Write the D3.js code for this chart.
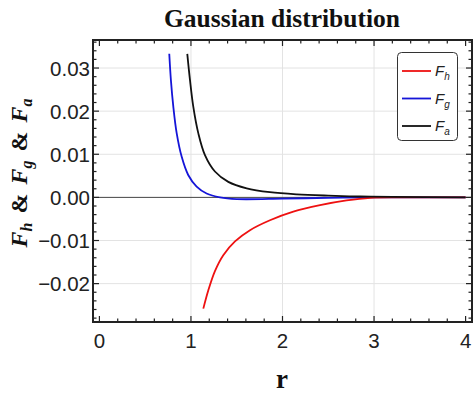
<!DOCTYPE html>
<html>
<head>
<meta charset="utf-8">
<script src="https://cdn.jsdelivr.net/npm/d3@7"></script>
<style>
  body { margin: 0; background: #fff; }
  svg { display: block; }
</style>
</head>
<body>
<svg id="chart" width="474" height="395"></svg>
<script>
// values
const rH = [1.135, 1.189, 1.262, 1.353, 1.481, 1.645, 1.863, 2.118, 2.41, 2.70, 2.96, 3.3, 3.7, 4.0]
const fH = [-0.0258, -0.0216, -0.0171, -0.0134, -0.0102, -0.0076, -0.0053, -0.0033, -0.0018, -0.0007, -0.0001, 0.0, 0.0, 0.0]

const rG = [0.763, 0.781, 0.807, 0.844, 0.899, 0.970, 1.062, 1.171, 1.317, 1.5, 2.0, 2.5, 3.0, 4.0]
const fG = [0.0333, 0.0272, 0.0211, 0.0149, 0.0094, 0.0052, 0.0025, 0.0009, 0.0, -0.0004, -0.0003, -0.0001, 0.0, 0.0]

const rA = [0.960, 0.989, 1.025, 1.080, 1.153, 1.262, 1.408, 1.609, 1.863, 2.155, 2.5, 2.85, 3.2, 4.0]
const fA = [0.0333, 0.0273, 0.0211, 0.0149, 0.0098, 0.0060, 0.0036, 0.0021, 0.0012, 0.0007, 0.0004, 0.0002, 0.0001, 0.0]

const xTicks = [0, 1, 2, 3, 4]
const yTicks = [-0.02, -0.01, 0, 0.01, 0.02, 0.03]
const seriesNames = ['h', 'g', 'a']
const seriesColors = ['#ee1111', '#1515d8', '#111111']

let svg = d3.select('#chart')

let pLeft = 93, pRight = 472, pTop = 40, pBottom = 322

let x = d3.scaleLinear().domain([-0.07, 4.07]).range([pLeft, pRight])
let y = d3.scaleLinear().domain([-0.0289, 0.0365]).range([pBottom, pTop])

// grid
svg.append('g')
   .selectAll('line')
   .data(xTicks.filter(t => t > 0 && t < 4))
   .enter()
   .append('line')
   .attr('x1', d => x(d)).attr('x2', d => x(d))
   .attr('y1', pTop).attr('y2', pBottom)
   .attr('stroke', '#e3e3e3').attr('stroke-width', 1)

svg.append('g')
   .selectAll('line')
   .data(yTicks.filter(t => t !== 0))
   .enter()
   .append('line')
   .attr('x1', pLeft).attr('x2', pRight)
   .attr('y1', d => y(d)).attr('y2', d => y(d))
   .attr('stroke', '#e3e3e3').attr('stroke-width', 1)

// zero line
svg.append('line')
   .attr('x1', pLeft).attr('x2', pRight)
   .attr('y1', y(0)).attr('y2', y(0))
   .attr('stroke', '#444').attr('stroke-width', 1)

// curves
svg.append('clipPath').attr('id', 'clip')
   .append('rect')
   .attr('x', pLeft).attr('y', pTop)
   .attr('width', pRight - pLeft).attr('height', pBottom - pTop)

let line = d3.line()
             .x(d => x(d[0]))
             .y(d => y(d[1]))
             .curve(d3.curveCatmullRom.alpha(0.5))

let curves = [
    d3.zip(rG, fG),
    d3.zip(rH, fH),
    d3.zip(rA, fA)
]
let curveColors = [seriesColors[1], seriesColors[0], seriesColors[2]]

svg.append('g')
   .attr('clip-path', 'url(#clip)')
   .selectAll('path')
   .data(curves)
   .enter()
   .append('path')
   .attr('d', d => line(d))
   .attr('fill', 'none')
   .attr('stroke', (d, i) => curveColors[i])
   .attr('stroke-width', 1.8)

// frame ticks (inward, on all four sides)
let xMinor = d3.range(-0.0, 4.01, 0.2).filter(v => Math.abs(v - Math.round(v)) > 0.01)
let yMinor = d3.range(-0.028, 0.0361, 0.002).filter(v => Math.abs(v * 100 - Math.round(v * 100)) > 0.01)

let tickG = svg.append('g').attr('stroke', '#222').attr('stroke-width', 1.2)

xTicks.forEach(t => {
    tickG.append('line').attr('x1', x(t)).attr('x2', x(t)).attr('y1', pBottom).attr('y2', pBottom - 6)
    tickG.append('line').attr('x1', x(t)).attr('x2', x(t)).attr('y1', pTop).attr('y2', pTop + 6)
})
xMinor.forEach(t => {
    tickG.append('line').attr('x1', x(t)).attr('x2', x(t)).attr('y1', pBottom).attr('y2', pBottom - 3.5)
    tickG.append('line').attr('x1', x(t)).attr('x2', x(t)).attr('y1', pTop).attr('y2', pTop + 3.5)
})
yTicks.forEach(t => {
    tickG.append('line').attr('x1', pLeft).attr('x2', pLeft + 6).attr('y1', y(t)).attr('y2', y(t))
    tickG.append('line').attr('x1', pRight).attr('x2', pRight - 6).attr('y1', y(t)).attr('y2', y(t))
})
yMinor.forEach(t => {
    tickG.append('line').attr('x1', pLeft).attr('x2', pLeft + 3.5).attr('y1', y(t)).attr('y2', y(t))
    tickG.append('line').attr('x1', pRight).attr('x2', pRight - 3.5).attr('y1', y(t)).attr('y2', y(t))
})

// frame
svg.append('rect')
   .attr('x', pLeft).attr('y', pTop)
   .attr('width', pRight - pLeft).attr('height', pBottom - pTop)
   .attr('fill', 'none')
   .attr('stroke', '#222')
   .attr('stroke-width', 2)

// tick labels
svg.append('g')
   .selectAll('text')
   .data(xTicks)
   .enter()
   .append('text')
   .attr('x', d => x(d))
   .attr('y', 348)
   .attr('text-anchor', 'middle')
   .attr('font-family', 'Liberation Sans, Arial, sans-serif')
   .attr('font-size', 20.5)
   .attr('fill', '#222')
   .text(d => d)

svg.append('g')
   .selectAll('text')
   .data(yTicks)
   .enter()
   .append('text')
   .attr('x', 90)
   .attr('y', d => y(d) + 7.5)
   .attr('text-anchor', 'end')
   .attr('font-family', 'Liberation Sans, Arial, sans-serif')
   .attr('font-size', 20.5)
   .attr('fill', '#222')
   .text(d => d3.format('.2f')(d).replace('-', '\u2212'))

// title
svg.append('text')
   .attr('x', 282)
   .attr('y', 27)
   .attr('text-anchor', 'middle')
   .attr('font-family', 'Liberation Serif, serif')
   .attr('font-weight', 'bold')
   .attr('font-size', 25.5)
   .attr('fill', '#111')
   .text('Gaussian distribution')

// x label
svg.append('text')
   .attr('x', 282)
   .attr('y', 388)
   .attr('text-anchor', 'middle')
   .attr('font-family', 'Liberation Serif, serif')
   .attr('font-weight', 'bold')
   .attr('font-size', 27)
   .attr('fill', '#111')
   .text('r')

// y label
let yl = svg.append('text')
            .attr('transform', 'translate(27,173) rotate(-90)')
            .attr('text-anchor', 'middle')
            .attr('font-family', 'Liberation Serif, serif')
            .attr('font-weight', 'bold')
            .attr('font-size', 24)
            .attr('fill', '#111')
seriesNames.forEach((s, i) => {
    yl.append('tspan').attr('font-style', 'italic').attr('dx', i === 0 ? 0 : 9).text('F')
    yl.append('tspan').attr('font-style', 'italic').attr('font-size', 16).attr('dy', 5).text(s)
    if (i < seriesNames.length - 1) {
        yl.append('tspan').attr('dy', -5).attr('dx', 9).text('&')
    }
})

// legend
let legend = svg.append('g')
legend.append('rect')
      .attr('x', 397.5).attr('y', 52.5)
      .attr('width', 60).attr('height', 88)
      .attr('rx', 4)
      .attr('fill', '#fff')
      .attr('stroke', '#333')
      .attr('stroke-width', 1)

let rows = legend.selectAll('g.row')
                 .data(seriesNames)
                 .enter()
                 .append('g')
                 .attr('class', 'row')
                 .attr('transform', (d, i) => 'translate(0,' + (71 + i * 27.5) + ')')

rows.append('line')
    .attr('x1', 402).attr('x2', 431)
    .attr('stroke', (d, i) => seriesColors[i])
    .attr('stroke-width', 1.8)

let lt = rows.append('text')
             .attr('x', 435)
             .attr('y', 5)
             .attr('font-family', 'Liberation Sans, Arial, sans-serif')
             .attr('font-style', 'italic')
             .attr('font-size', 15)
             .attr('fill', '#222')
lt.append('tspan').text('F')
lt.append('tspan').attr('font-size', 10).attr('dy', 4).text(d => d)
</script>
</body>
</html>
